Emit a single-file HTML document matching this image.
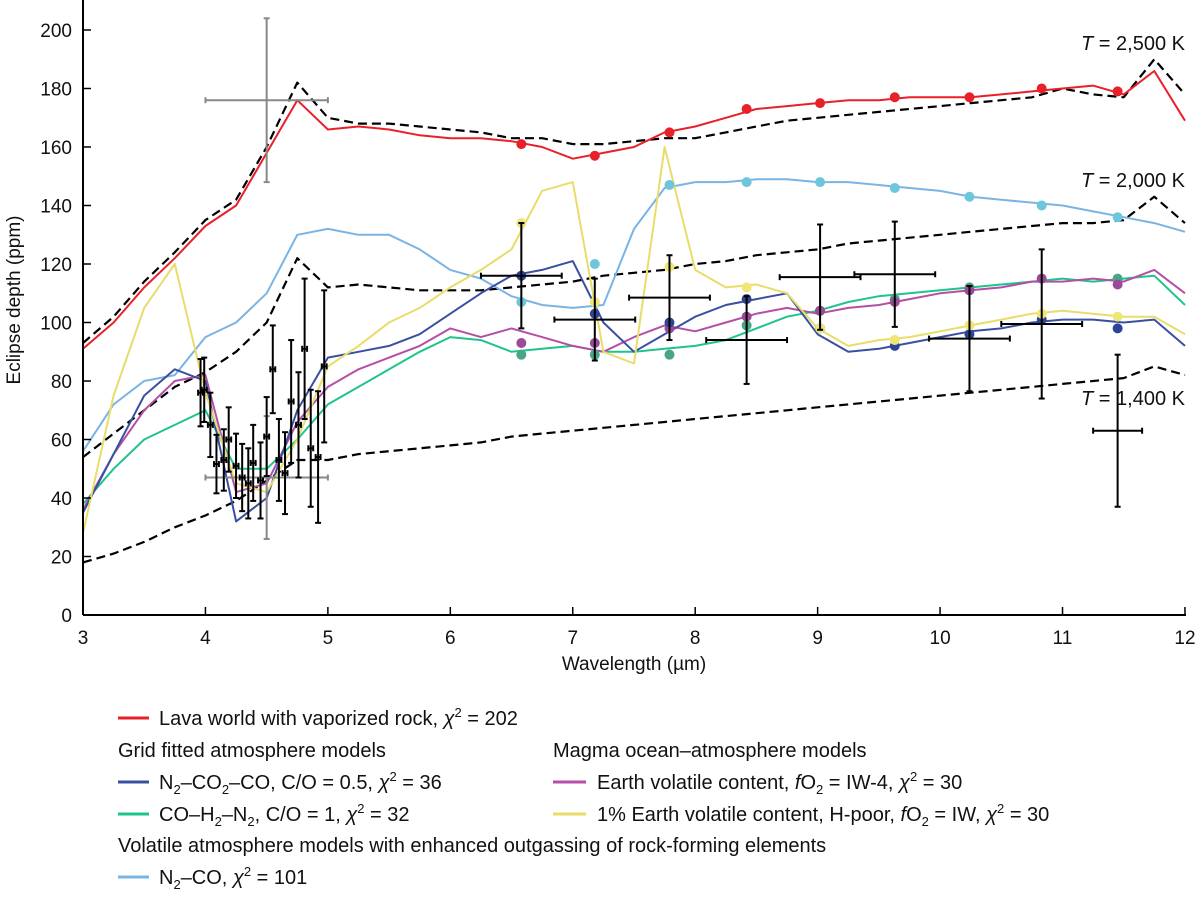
<!DOCTYPE html>
<html><head><meta charset="utf-8"><style>
body{margin:0;background:#fff;}
svg{display:block;font-family:"Liberation Sans",Arial,sans-serif;}
</style></head><body>
<svg id="chart" width="1200" height="919" viewBox="0 0 1200 919" xmlns="http://www.w3.org/2000/svg">
<g id="plot"></g>
<g id="axes"></g>
<g id="legend" font-size="20" fill="#111">
 <line x1="118" y1="718" x2="149" y2="718" stroke="#e8202a" stroke-width="3"/>
 <text x="159" y="725">Lava world with vaporized rock, <tspan font-style="italic">χ</tspan><tspan font-size="13" dy="-8">2</tspan><tspan dy="8"> = 202</tspan></text>
 <text x="118" y="757">Grid fitted atmosphere models</text>
 <text x="553" y="757">Magma ocean–atmosphere models</text>
 <line x1="118" y1="782" x2="149" y2="782" stroke="#3a4fa0" stroke-width="3"/>
 <text x="159" y="789">N<tspan font-size="13" dy="5">2</tspan><tspan dy="-5">–CO</tspan><tspan font-size="13" dy="5">2</tspan><tspan dy="-5">–CO, C/O = 0.5, </tspan><tspan font-style="italic">χ</tspan><tspan font-size="13" dy="-8">2</tspan><tspan dy="8"> = 36</tspan></text>
 <line x1="553" y1="782" x2="586" y2="782" stroke="#b44fa5" stroke-width="3"/>
 <text x="597" y="789">Earth volatile content, <tspan font-style="italic">f</tspan>O<tspan font-size="13" dy="5">2</tspan><tspan dy="-5"> = IW-4, </tspan><tspan font-style="italic">χ</tspan><tspan font-size="13" dy="-8">2</tspan><tspan dy="8"> = 30</tspan></text>
 <line x1="118" y1="814" x2="149" y2="814" stroke="#1fc48c" stroke-width="3"/>
 <text x="159" y="821">CO–H<tspan font-size="13" dy="5">2</tspan><tspan dy="-5">–N</tspan><tspan font-size="13" dy="5">2</tspan><tspan dy="-5">, C/O = 1, </tspan><tspan font-style="italic">χ</tspan><tspan font-size="13" dy="-8">2</tspan><tspan dy="8"> = 32</tspan></text>
 <line x1="553" y1="814" x2="586" y2="814" stroke="#e8dd6a" stroke-width="3"/>
 <text x="597" y="821">1% Earth volatile content, H-poor, <tspan font-style="italic">f</tspan>O<tspan font-size="13" dy="5">2</tspan><tspan dy="-5"> = IW, </tspan><tspan font-style="italic">χ</tspan><tspan font-size="13" dy="-8">2</tspan><tspan dy="8"> = 30</tspan></text>
 <text x="118" y="852">Volatile atmosphere models with enhanced outgassing of rock-forming elements</text>
 <line x1="118" y1="877" x2="149" y2="877" stroke="#7ab4e4" stroke-width="3"/>
 <text x="159" y="884">N<tspan font-size="13" dy="5">2</tspan><tspan dy="-5">–CO, </tspan><tspan font-style="italic">χ</tspan><tspan font-size="13" dy="-8">2</tspan><tspan dy="8"> = 101</tspan></text>
</g>
</svg>
<script>
const wl=[3,3.25,3.5,3.75,4,4.25,4.5,4.75,5,5.25,5.5,5.75,6,6.25,6.5,6.75,7,7.25,7.5,7.75,8,8.25,8.5,8.75,9,9.25,9.5,9.75,10,10.25,10.5,10.75,11,11.25,11.5,11.75,12];
const bb2500=[93,102,114,124,135,142,160,182,170,168,168,167,166,165,163,163,161,161,162,163,163,165,167,169,170,171,172,173,174,175,176,177,180,178,177,190,178];
const bb2000=[54,62,70,78,83,90,100,122,112,113,112,111,111,111,112,113,114,116,117,118,120,121,123,124,125,127,128,129,130,131,132,133,134,134,135,143,134];
const bb1400=[18,21,25,30,34,39,46,53,53,55,56,57,58,59,61,62,63,64,65,66,67,68,69,70,71,72,73,74,75,76,77,78,79,80,81,85,82];
const lava=[91,100,112,122,133,140,158,176,166,167,166,164,163,163,162,160,156,158,160,165,167,170,173,174,175,176,176,177,177,177,178,179,180,181,178,186,169];
const n2co=[56,72,80,82,95,100,110,130,132,130,130,125,118,115,109,106,105,106,132,146,148,148,149,149,148,148,147,146,145,143,142,141,140,138,136,134,131];
const n2co2co=[35,55,75,84,80,32,40,70,88,90,92,96,103,110,116,118,121,100,90,96,102,106,108,110,96,90,91,93,95,97,98,100,101,101,100,101,92];
const coh2n2=[38,50,60,65,70,50,50,60,72,78,84,90,95,94,90,91,92,90,90,91,92,94,98,102,104,107,109,110,111,112,113,114,115,114,115,116,106];
const earthIW4=[36,55,70,80,82,42,45,66,78,84,88,92,98,95,98,95,92,90,95,99,97,100,103,105,103,105,106,108,110,111,112,114,114,115,114,118,110];
const hpoor=[28,75,105,120,76,45,42,60,85,92,100,105,112,118,125,145,148,90,86,160,118,112,113,110,98,92,94,95,97,99,101,103,104,103,102,102,96];
const binWl=[6.58,7.18,7.79,8.42,9.02,9.63,10.24,10.83,11.45];
const dotLava=[161,157,165,173,175,177,177,180,179];
const dotN2co=[107,120,147,148,148,146,143,140,136];
const dotN2co2co=[116,103,100,108,98,92,96,101,98];
const dotCoh2n2=[89,89,89,99,104,108,112,115,115];
const dotEarth=[93,93,98,102,104,107,111,115,113];
const dotHpoor=[134,107,119,112,98,94,99,103,102];
const miriY=[116,101,108.5,94,115.5,116.5,94.5,99.5,63];
const miriErr=[18,14,14.5,15,18,18,18,25.5,26];
const miriXErr=[0.33,0.33,0.33,0.33,0.33,0.33,0.33,0.33,0.2];
const nsWl=[3.96,3.99,4.04,4.09,4.15,4.19,4.25,4.30,4.35,4.39,4.45,4.50,4.55,4.60,4.65,4.70,4.76,4.81,4.86,4.92,4.97];
const nsY=[76,77,65,51.6,53,60,51,47,45,52,46,61,84,53,48.5,73,65,91,57,54,85];
const nsErr=[11.5,11,11,10,10.5,11,11,11.5,12,13,13,13.5,15,14,14,21,18,24,20,22.5,26];
const grayWl=[4.5,4.5];
const grayY=[176,47];
const grayErr=[28,21];
const grayXErr=[0.5,0.5];
const xTicks=[3,4,5,6,7,8,9,10,11,12];
const yTicks=[0,20,40,60,80,100,120,140,160,180,200];

const NS='http://www.w3.org/2000/svg';
const X=w=>83+(w-3)*122.44;
const Y=v=>615-v*2.925;
function mk(tag,attrs,parent){const e=document.createElementNS(NS,tag);for(const k in attrs)e.setAttribute(k,attrs[k]);parent.appendChild(e);return e;}
const plot=document.getElementById('plot');
const axes=document.getElementById('axes');

function drawLine(vals,color,dashed,name){
  const d=vals.map((v,i)=>(i?'L':'M')+X(wl[i]).toFixed(1)+','+Y(v).toFixed(1)).join('');
  const p=mk('path',{d:d,fill:'none',stroke:color,'stroke-width':dashed?2.2:2,'stroke-linejoin':'round'},plot);
  if(dashed)p.setAttribute('stroke-dasharray','9,5');
  
  
}
drawLine(bb1400,'#000',true,'blackbody-1400k-line');
drawLine(bb2000,'#000',true,'blackbody-2000k-line');
drawLine(bb2500,'#000',true,'blackbody-2500k-line');
drawLine(n2co,'#7ab4e4',false,'n2-co-line');
drawLine(coh2n2,'#1fc48c',false,'co-h2-n2-line');
drawLine(earthIW4,'#b44fa5',false,'earth-iw4-line');
drawLine(n2co2co,'#3a4fa0',false,'n2-co2-co-line');
drawLine(hpoor,'#e8dd6a',false,'h-poor-line');
drawLine(lava,'#e8202a',false,'lava-world-line');

function drawDots(vals,color,name){
  vals.forEach((v,i)=>{
    const c=mk('circle',{cx:X(binWl[i]),cy:Y(v),r:5,fill:color},plot);
    
    
  });
}
drawDots(dotCoh2n2,'#4aa585','co-h2-n2-bin-dot');
drawDots(dotEarth,'#9a4a96','earth-iw4-bin-dot');
drawDots(dotN2co2co,'#2f4496','n2-co2-co-bin-dot');
drawDots(dotHpoor,'#efe678','h-poor-bin-dot');
drawDots(dotN2co,'#6ec6dc','n2-co-bin-dot');
drawDots(dotLava,'#e8202a','lava-bin-dot');

function errBar(w,v,ye,xe,color,sw,cap,name){
  const g=mk('g',{stroke:color,'stroke-width':sw},plot);
  
  
  mk('line',{x1:X(w),x2:X(w),y1:Y(v+ye),y2:Y(v-ye)},g);
  mk('line',{x1:X(w-xe),x2:X(w+xe),y1:Y(v),y2:Y(v)},g);
  mk('line',{x1:X(w)-cap,x2:X(w)+cap,y1:Y(v+ye),y2:Y(v+ye)},g);
  mk('line',{x1:X(w)-cap,x2:X(w)+cap,y1:Y(v-ye),y2:Y(v-ye)},g);
  mk('line',{x1:X(w-xe),x2:X(w-xe),y1:Y(v)-cap,y2:Y(v)+cap},g);
  mk('line',{x1:X(w+xe),x2:X(w+xe),y1:Y(v)-cap,y2:Y(v)+cap},g);
}
grayWl.forEach((w,i)=>errBar(w,grayY[i],grayErr[i],grayXErr[i],'#888',2,3,'photometry-point'));
nsWl.forEach((w,i)=>errBar(w,nsY[i],nsErr[i],0.02,'#000',2,3,'nirspec-point'));
binWl.forEach((w,i)=>errBar(w,miriY[i],miriErr[i],miriXErr[i],'#000',2,3,'miri-point'));

// axes
let a=mk('line',{x1:83,y1:0,x2:83,y2:615,stroke:'#000','stroke-width':2},axes);

a=mk('line',{x1:83,y1:615,x2:1186,y2:615,stroke:'#000','stroke-width':2},axes);

xTicks.forEach(t=>{
  const l=mk('line',{x1:X(t),x2:X(t),y1:615,y2:607,stroke:'#000','stroke-width':1.5},axes);
  
  
  const tx=mk('text',{x:X(t),y:644,'text-anchor':'middle','font-size':19,fill:'#111'},axes);
  tx.textContent=t;
  
  
});
yTicks.forEach(t=>{
  const l=mk('line',{x1:83,x2:91,y1:Y(t),y2:Y(t),stroke:'#000','stroke-width':1.5},axes);
  
  
  const tx=mk('text',{x:72,y:Y(t)+7,'text-anchor':'end','font-size':19,fill:'#111'},axes);
  tx.textContent=t;
  
  
});
let t=mk('text',{x:634,y:670,'text-anchor':'middle','font-size':19,fill:'#111'},axes);
t.textContent='Wavelength (µm)';


t=mk('text',{x:0,y:0,'text-anchor':'middle','font-size':19,fill:'#111',transform:'translate(20,300) rotate(-90)'},axes);
t.textContent='Eclipse depth (ppm)';


function tLabel(y,txt,name){
  const e=mk('text',{x:1185,y:y,'text-anchor':'end','font-size':20,fill:'#111'},axes);
  e.innerHTML='<tspan font-style="italic">T</tspan> = '+txt;
  
  
}
tLabel(50,'2,500 K','label-2500k');
tLabel(187,'2,000 K','label-2000k');
tLabel(405,'1,400 K','label-1400k');
</script>
</body></html>
